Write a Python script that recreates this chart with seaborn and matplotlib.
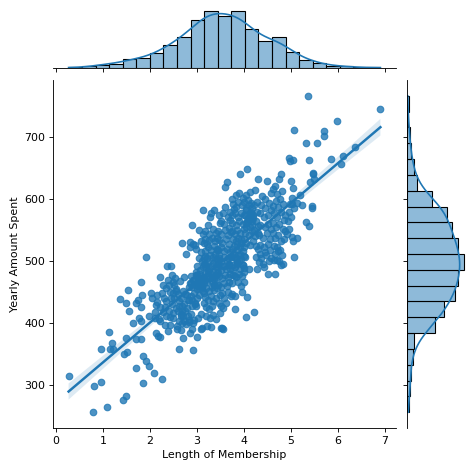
import matplotlib
matplotlib.use("Agg")
import matplotlib.pyplot as plt
import pandas as pd
import seaborn as sns

# (length of membership in years, yearly amount spent), grouped by tenure band
tenure_under_2 = [
    (0.27,314.5),(0.79,256),(0.80,299),(0.95,304),(0.96,357.5),(1.08,265),(1.13,385),
    (1.14,357.5),(1.20,368),(1.22,358.5),(1.37,439),
    (1.42,275),(1.44,350),(1.49,282),(1.51,353),(1.49,376),(1.53,453),(1.49,433),(1.56,419),
    (1.63,400.5),(1.71,327),(1.71,375),(1.71,432),
    (1.74,437),(1.76,408),(1.80,426),(1.81,466.5),(1.81,375),(1.82,403),(1.83,445),(1.85,347),
    (1.85,303),(1.91,338),(1.92,506),(1.98,331),(1.99,412),
]
tenure_2_to_3 = [
    (2.02,448),(2.08,319),(2.10,408.5),(2.12,384.5),(2.17,379.5),(2.21,378),(2.22,475),(2.22,404),(2.25,309),
    (2.15,445),(2.14,434),(2.26,448),(2.22,426),(2.28,418),(2.19,406),(2.12,429),(2.05,440),(2.27,462),(2.10,418),
    (2.37,492),(2.45,492),(2.39,387),(2.33,397),(2.42,397),(2.42,410),(2.33,426),(2.35,456),(2.38,470),(2.40,462),
    (2.43,450),(2.30,441),(2.35,436),(2.44,441),(2.47,430),(2.48,448),(2.50,466),(2.46,478),(2.55,455),(2.52,440),
    (2.56,424),(2.40,420),(2.50,408),(2.57,395),(2.52,461),(2.48,417),(2.54,472),(2.34,412),(2.56,452),
    (2.61,358),(2.70,376),(2.86,384),(2.58,390),(2.66,389),(2.61,404),(2.68,529),(2.86,531),(2.85,523),(2.76,512),
    (2.62,435),(2.66,415),(2.70,412),(2.74,420),(2.80,438),(2.60,420),(2.64,468),(2.68,400),(2.72,474),(2.78,445),
    (2.84,405),(2.60,447),(2.65,440),(2.70,452),(2.75,447),(2.82,458),(2.62,428),(2.68,420),(2.72,431),(2.78,425),
    (2.84,438),(2.66,411),(2.72,404),(2.76,398),(2.81,412),(2.84,402),(2.69,427),(2.86,465),
    (2.90,558.5),(2.92,528),(2.97,520),(2.92,356.5),(2.90,391),(2.88,415),(2.93,405),(2.98,428),(2.89,437),(2.95,430),
    (2.88,476),(2.92,470),(2.97,478),(2.90,458),(2.96,462),(2.88,444),(2.93,448),(2.99,440),(2.90,428),(2.95,432),
    (2.88,465),(2.94,470),(2.98,482),(2.92,400),(2.96,526),
]
tenure_3_to_4 = [
    (3.04,550),(3.13,543.5),(3.12,583),(3.14,528.5),(3.00,378),(3.11,392.5),(3.09,390),
    (3.03,460),(3.08,470),(3.12,452),(3.00,464),(3.05,456),(3.10,458),(3.15,495),(3.02,472),(3.07,480),(3.13,474),
    (3.01,455),(3.06,463),(3.11,458),(3.15,465),(3.04,446),(3.09,515),(3.14,449),(3.00,492),(3.05,505),(3.10,500),
    (3.15,433),(3.03,408),(3.08,414),(3.13,490),(3.01,478),(3.06,485),(3.14,505),(3.08,532),
    (3.37,583),(3.29,577),(3.27,571),(3.23,558.5),(3.21,528),(3.18,516),(3.29,394),
    (3.18,548),(3.26,544),(3.34,552),(3.40,546),(3.17,536),(3.25,534),(3.31,538),(3.38,532),(3.43,537),
    (3.24,522),(3.30,518),(3.36,524),(3.42,520),(3.17,508),(3.22,505),(3.28,510),(3.33,506),(3.39,512),(3.43,504),
    (3.17,496),(3.23,498),(3.29,492),(3.34,497),(3.40,490),(3.44,496),(3.18,480),(3.24,484),(3.30,479),(3.35,483),
    (3.41,478),(3.17,470),(3.22,466),(3.27,472),(3.32,468),(3.37,471),(3.43,465),(3.19,456),(3.25,452),(3.31,458),
    (3.36,462),(3.42,457),(3.17,442),(3.23,438),(3.29,443),(3.35,436),(3.41,441),(3.20,426),(3.26,422),(3.32,428),
    (3.38,476),(3.43,481),(3.19,412),(3.27,408),(3.34,413),(3.41,406),(3.22,396),(3.36,453),(3.43,518),
    (3.20,490),(3.38,502),(3.26,488),(3.31,475),(3.21,476),(3.37,462),
    (3.60,587),(3.51,564),(3.63,627),(3.59,619),(3.68,553),(3.50,392.5),(3.54,392.5),(3.55,391),(3.56,425),(3.62,432),
    (3.58,440),(3.54,448),(3.46,575),(3.55,578),(3.65,572),(3.71,580),(3.48,562),(3.58,560),(3.70,566),
    (3.45,548),(3.52,544),(3.60,550),(3.66,542),(3.72,547),(3.47,534),(3.54,530),(3.61,536),(3.69,528),
    (3.45,518),(3.51,522),(3.57,516),(3.63,520),(3.70,514),(3.46,505),(3.52,500),(3.58,507),(3.64,502),(3.72,506),
    (3.45,490),(3.50,486),(3.56,492),(3.62,488),(3.68,493),(3.47,476),(3.53,472),(3.59,478),(3.65,474),(3.71,480),
    (3.45,462),(3.51,458),(3.57,465),(3.63,460),(3.69,466),(3.48,446),(3.66,450),(3.72,444),(3.46,432),(3.52,428),
    (3.68,495),(3.49,416),(3.60,492),(3.45,483),(3.70,488),(3.47,510),(3.66,505),
    (3.87,596),(3.78,584),(3.92,640),(3.75,447),(3.80,443.5),(3.80,423),(3.96,449.5),
    (3.74,600),(3.82,606),(3.90,610),(3.97,602),(3.76,592),(3.84,588),(3.95,590),(4.00,596),
    (3.74,575),(3.81,578),(3.88,572),(3.94,578),(3.75,562),(3.83,558),(3.90,564),(3.97,560),
    (3.74,548),(3.80,544),(3.86,550),(3.92,546),(3.99,552),(3.76,535),(3.82,532),(3.88,538),(3.94,530),(4.00,536),
    (3.74,520),(3.79,524),(3.85,518),(3.91,522),(3.97,516),(3.75,508),(3.81,505),(3.87,510),(3.93,504),(3.99,508),
    (3.74,494),(3.80,490),(3.86,496),(3.92,488),(3.98,494),(3.76,478),(3.83,474),(3.89,480),(3.95,476),
    (3.74,464),(3.81,476),(3.88,466),(3.94,460),(4.00,466),(3.77,486),(3.86,498),(3.91,512),(3.99,489),(3.85,497),
    (3.78,512),(3.90,500),(3.97,494),(3.83,505),(3.93,535),(3.85,528),
]
tenure_4_to_5 = [
    (4.01,574),(4.01,522),(4.01,482),
    (4.07,648),(4.29,632),(4.23,614.5),(4.12,611),(4.05,606),(4.04,409),(4.22,418),(4.07,442.5),(4.28,487.5),(4.10,488),(4.25,506),
    (4.08,598),(4.15,594),(4.22,590),(4.28,596),(4.05,582),(4.13,578),(4.20,574),(4.27,580),
    (4.04,562),(4.11,566),(4.18,558),(4.26,564),(4.30,556),(4.03,546),(4.10,542),(4.17,548),(4.24,540),(4.30,545),
    (4.05,530),(4.12,526),(4.19,532),(4.26,524),(4.04,585),(4.11,590),(4.18,585),(4.29,520),(4.03,575),(4.14,580),
    (4.20,570),(4.05,555),(4.12,555),(4.18,565),(4.06,565),(4.14,575),(4.03,506),(4.21,550),(4.09,570),
    (4.48,630),(4.38,605),(4.44,600),(4.58,610),(4.34,512),(4.41,495),(4.42,490),(4.51,480),
    (4.36,590),(4.45,586),(4.53,594),(4.33,578),(4.42,572),(4.50,575),(4.58,582),(4.35,558),(4.44,555),(4.52,560),
    (4.57,552),(4.32,542),(4.40,538),(4.48,545),(4.55,535),(4.33,526),(4.42,522),(4.50,528),(4.56,518),(4.37,505),
    (4.47,510),(4.53,500),(4.45,515),(4.32,498),(4.58,505),
    (4.78,640),(4.75,633),(4.65,621),(4.61,616),(4.80,614),(4.67,597),(4.61,589),(4.88,574),(4.83,496),(4.78,494),
    (4.74,500.5),(4.63,501.5),(4.71,501.5),(4.65,479),(4.72,516.5),
    (4.70,608),(4.76,600),(4.83,592),(4.73,588),(4.64,578),(4.70,572),(4.78,580),(4.84,566),(4.62,562),(4.68,555),
    (4.75,560),(4.82,552),(4.87,548),(4.61,545),(4.66,538),(4.72,542),(4.78,532),(4.85,536),(4.63,525),(4.70,522),
    (4.76,518),(4.66,512),(4.81,510),
    (4.95,666),(4.97,661),(4.97,593),(4.95,579.5),(4.95,552),(4.93,565),(4.92,544),
]
tenure_over_5 = [
    (5.04,664),(5.00,629),(5.06,712),(5.04,618),(5.12,594),(5.03,592),(5.07,585.5),(5.03,539),(5.12,538),(5.05,533),
    (5.07,507),(5.00,572),(5.01,602),
    (5.36,767),(5.31,690),(5.39,663),(5.46,640),(5.40,628),(5.20,606),(5.24,591),(5.45,589),(5.45,585),(5.31,563),(5.38,556),
    (5.56,691),(5.70,710),(5.71,702),(5.47,642),(5.48,633),
    (5.97,727),(5.84,665),(6.06,657),(6.11,670),(6.37,684),(6.90,745),
]

x_label = "Length of Membership"
y_label = "Yearly Amount Spent"

rows = tenure_under_2 + tenure_2_to_3 + tenure_3_to_4 + tenure_4_to_5 + tenure_over_5
customers = pd.DataFrame(rows, columns=[x_label, y_label])

DPI = 79
W, H = 474, 470

g = sns.jointplot(data=customers, x=x_label, y=y_label, kind="reg", height=6)
g.figure.set_size_inches(W / DPI, H / DPI)


def box(left, top, right, bottom):
    """Axes rectangle in figure fractions from pixel edges."""
    return [left / W, 1 - bottom / H, (right - left) / W, (bottom - top) / H]


g.ax_joint.set_position(box(53, 80, 396, 428))
g.ax_marg_x.set_position(box(53, 8, 396, 68))
g.ax_marg_y.set_position(box(407, 80, 467, 428))

g.figure.savefig("out.png", dpi=DPI)
